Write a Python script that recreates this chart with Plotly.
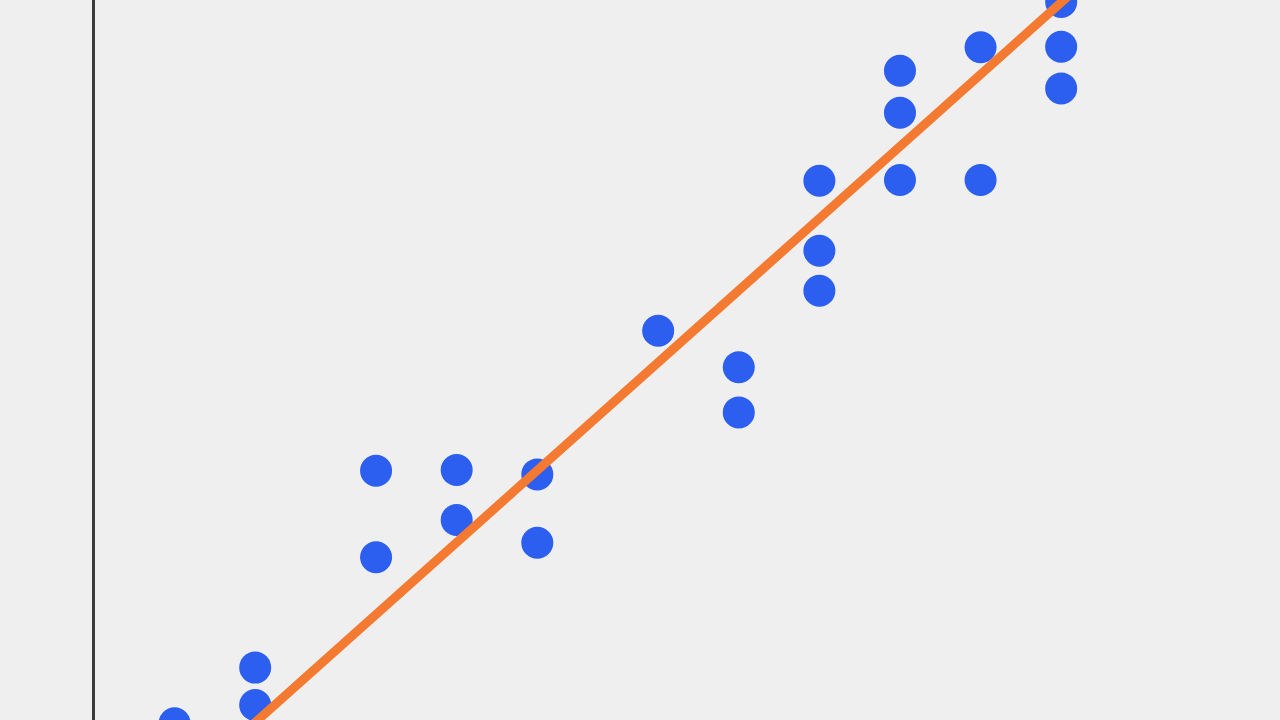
import plotly.graph_objects as go

# observed points (x in units, y in units)
x_vals = [1, 2, 2, 3.5, 3.5, 4.5, 4.5, 5.5, 5.5, 7, 8, 8,
          9, 9, 9, 10, 10, 10, 11, 11, 12, 12, 12]
y_vals = [-0.08, 1.31, 0.375, 6.23, 4.07, 6.25, 5.0, 6.14, 4.43, 9.73, 8.82, 7.69,
          13.48, 11.73, 10.73, 16.23, 15.18, 13.5, 16.82, 13.5, 17.95, 16.83, 15.79]

# fitted line end points
fit_x = [1.5, 12.5]
fit_y = [-0.96, 18.84]

bg = '#efefef'

fig = go.Figure()
fig.add_trace(go.Scatter(x=x_vals, y=y_vals, mode='markers',
                         marker=dict(size=32, color='#2c5ef0', line=dict(width=0)),
                         showlegend=False))
fig.add_trace(go.Scatter(x=fit_x, y=fit_y, mode='lines',
                         line=dict(color='#f47a32', width=9),
                         showlegend=False))

fig.update_layout(width=1280, height=720, autosize=False,
                  margin=dict(l=0, r=0, t=0, b=0),
                  paper_bgcolor=bg, plot_bgcolor=bg,
                  xaxis=dict(range=[-1.166, 14.715], showgrid=False, showticklabels=False,
                             ticks='', zeroline=True, zerolinecolor='#3a3a3a', zerolinewidth=3),
                  yaxis=dict(range=[0, 18], showgrid=False, showticklabels=False,
                             ticks='', zeroline=False))

# drop the page margin so the chart fills the window
fig.write_html("out.html", config={'displayModeBar': False},
               post_script="document.body.style.margin='0';document.body.style.background='%s';" % bg)
